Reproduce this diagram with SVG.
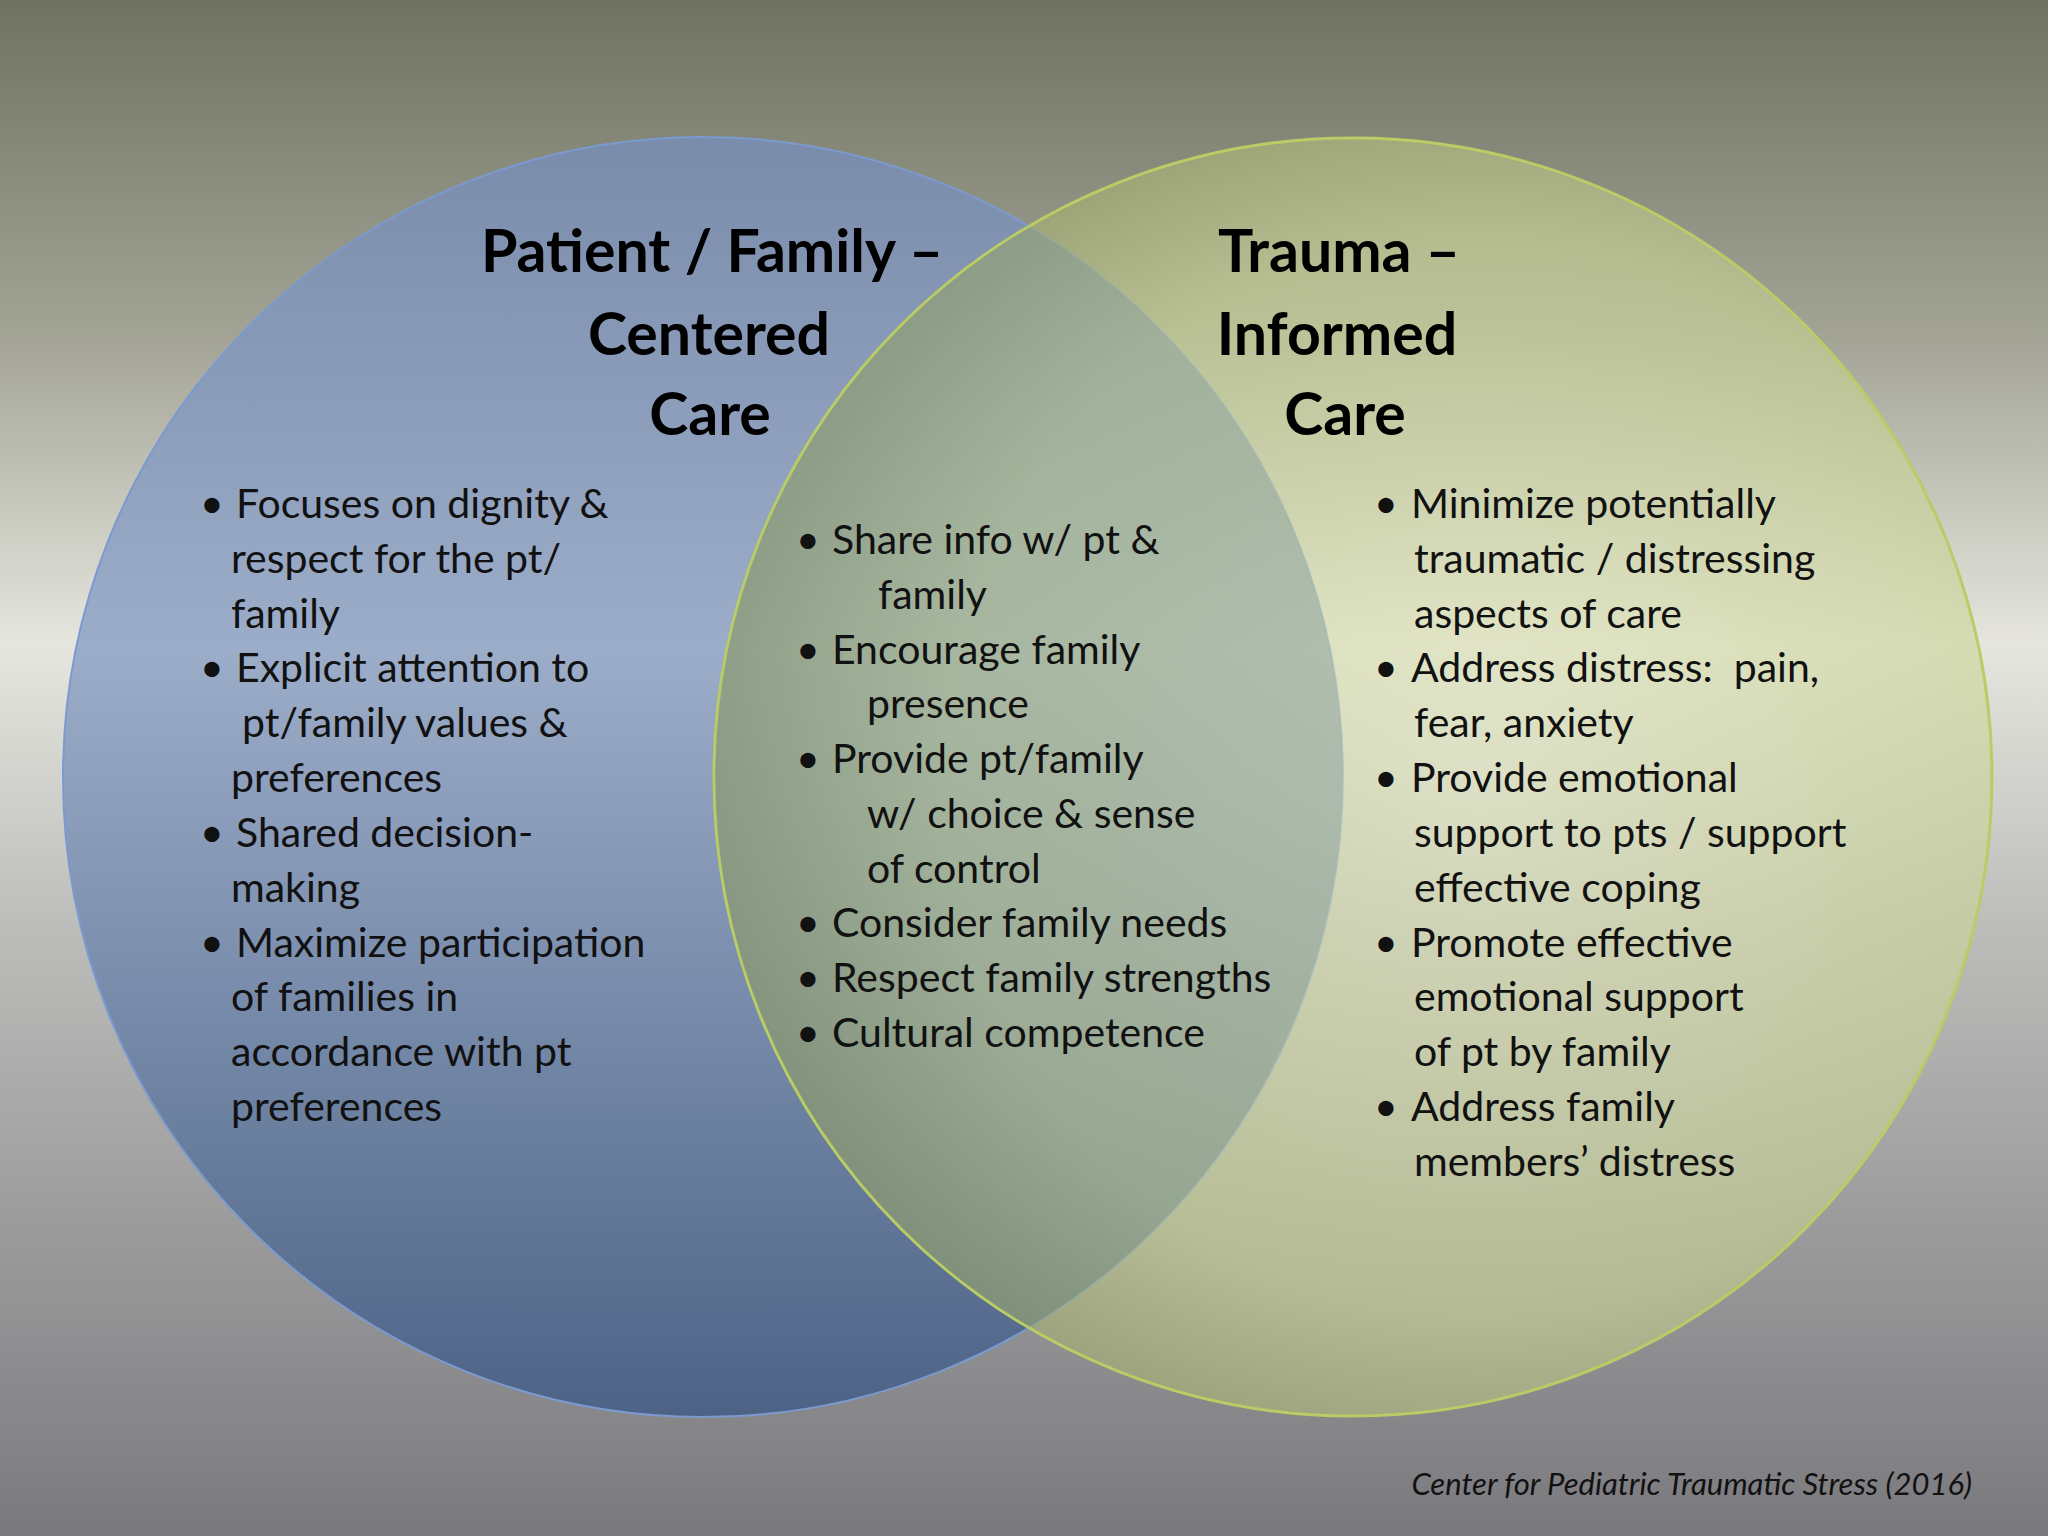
<svg xmlns="http://www.w3.org/2000/svg" width="2048" height="1536" viewBox="0 0 2048 1536">
<defs>
<linearGradient id="bg" x1="0" y1="0" x2="0" y2="1">
<stop offset="0" stop-color="#6f7261"/>
<stop offset="0.22" stop-color="#a3a496"/>
<stop offset="0.42" stop-color="#e6e6df"/>
<stop offset="0.6" stop-color="#bdbdbb"/>
<stop offset="1" stop-color="#7a797d"/>
</linearGradient>
<linearGradient id="lc" x1="0" y1="0" x2="0" y2="1">
<stop offset="0" stop-color="#7a8cab"/>
<stop offset="0.4" stop-color="#9cadc9"/>
<stop offset="1" stop-color="#4d6386"/>
</linearGradient>
<radialGradient id="rc" cx="0.6" cy="0.5" r="0.6">
<stop offset="0" stop-color="#e3e8c0"/>
<stop offset="0.7" stop-color="#c9d394"/>
<stop offset="1" stop-color="#9aa466"/>
</radialGradient>
<clipPath id="lclip"><circle cx="703" cy="777" r="640"/></clipPath>
<style>
.t{font-family:Lato,"Open Sans",sans-serif;font-size:41px;fill:#111}
.h{font-family:Lato,"Open Sans",sans-serif;font-size:59px;font-weight:bold;fill:#000;text-anchor:middle}
</style>
</defs>
<rect width="2048" height="1536" fill="url(#bg)"/>
<g id="left-circle"><circle cx="703" cy="777" r="640" fill="url(#lc)" stroke="#7a9ad0" stroke-width="2"/></g>
<g id="right-circle"><circle cx="1353" cy="777" r="639" fill="url(#rc)" fill-opacity="0.62" stroke="#b9cc66" stroke-width="3"/>
<circle cx="1353" cy="777" r="638" fill="#5f7a78" fill-opacity="0.18" clip-path="url(#lclip)"/></g>
<g id="connectors"/>
<g id="left-text">
<text class="h" x="712" y="272">Patient / Family –</text>
<text class="h" x="709" y="355">Centered</text>
<text class="h" x="710" y="435">Care</text>
<text class="t"><tspan x="200" y="518">•</tspan><tspan x="236" y="518">Focuses on dignity &amp;</tspan>
<tspan x="231" y="573">respect for the pt/</tspan><tspan x="231" y="628">family</tspan>
<tspan x="200" y="682">•</tspan><tspan x="236" y="682">Explicit attention to</tspan>
<tspan x="242" y="737">pt/family values &amp;</tspan><tspan x="231" y="792">preferences</tspan>
<tspan x="200" y="847">•</tspan><tspan x="236" y="847">Shared decision-</tspan><tspan x="231" y="902">making</tspan>
<tspan x="200" y="957">•</tspan><tspan x="236" y="957">Maximize participation</tspan>
<tspan x="231" y="1011">of families in</tspan><tspan x="231" y="1066">accordance with pt</tspan><tspan x="231" y="1121">preferences</tspan></text>
</g>
<g id="middle-text">
<text class="t"><tspan x="796" y="554">•</tspan><tspan x="832" y="554">Share info w/ pt &amp;</tspan>
<tspan x="878" y="609">family</tspan>
<tspan x="796" y="664">•</tspan><tspan x="832" y="664">Encourage family</tspan><tspan x="867" y="718">presence</tspan>
<tspan x="796" y="773">•</tspan><tspan x="832" y="773">Provide pt/family</tspan>
<tspan x="867" y="828">w/ choice &amp; sense</tspan><tspan x="867" y="883">of control</tspan>
<tspan x="796" y="937">•</tspan><tspan x="832" y="937">Consider family needs</tspan>
<tspan x="796" y="992">•</tspan><tspan x="832" y="992">Respect family strengths</tspan>
<tspan x="796" y="1047">•</tspan><tspan x="832" y="1047">Cultural competence</tspan></text>
</g>
<g id="right-text">
<text class="h" x="1339" y="272">Trauma –</text>
<text class="h" x="1337" y="355">Informed</text>
<text class="h" x="1345" y="435">Care</text>
<text class="t"><tspan x="1374" y="518">•</tspan><tspan x="1411" y="518">Minimize potentially</tspan>
<tspan x="1414" y="573">traumatic / distressing</tspan><tspan x="1414" y="628">aspects of care</tspan>
<tspan x="1374" y="682">•</tspan><tspan x="1411" y="682" xml:space="preserve">Address distress:  pain,</tspan><tspan x="1414" y="737">fear, anxiety</tspan>
<tspan x="1374" y="792">•</tspan><tspan x="1411" y="792">Provide emotional</tspan>
<tspan x="1414" y="847">support to pts / support</tspan><tspan x="1414" y="902">effective coping</tspan>
<tspan x="1374" y="957">•</tspan><tspan x="1411" y="957">Promote effective</tspan>
<tspan x="1414" y="1011">emotional support</tspan><tspan x="1414" y="1066">of pt by family</tspan>
<tspan x="1374" y="1121">•</tspan><tspan x="1411" y="1121">Address family</tspan><tspan x="1414" y="1176">members’ distress</tspan></text>
</g>
<text x="1972" y="1495" text-anchor="end" font-family="Lato,'Open Sans',sans-serif" font-style="italic" font-size="31" fill="#111">Center for Pediatric Traumatic Stress (2016)</text>
</svg>
